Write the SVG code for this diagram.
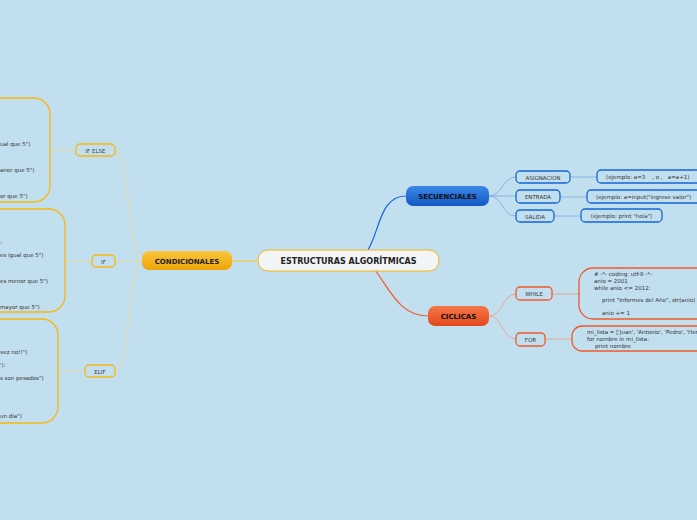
<svg xmlns="http://www.w3.org/2000/svg" width="697" height="520" viewBox="0 0 697 520">
<style>
text{font-family:"DejaVu Sans",sans-serif;font-size:5.5px;fill:#333}
.y{fill:#c2dff0;stroke:#f7b70e;stroke-width:1.3}
.b{fill:#c2dff0;stroke:#1665d8;stroke-width:1.3}
.o{fill:#c2dff0;stroke:#f05a28;stroke-width:1.3}
.c{text-anchor:middle}
</style>
<defs>
<linearGradient id="gy" x1="0" y1="0" x2="0" y2="1"><stop offset="0" stop-color="#fbc63a"/><stop offset="1" stop-color="#eda40a"/></linearGradient>
<linearGradient id="gb" x1="0" y1="0" x2="0" y2="1"><stop offset="0" stop-color="#3d87e8"/><stop offset="1" stop-color="#1257c4"/></linearGradient>
<linearGradient id="go" x1="0" y1="0" x2="0" y2="1"><stop offset="0" stop-color="#f5784a"/><stop offset="1" stop-color="#e4481c"/></linearGradient>
</defs>
<rect width="697" height="520" fill="#c2dff0"/>
<g id="connectors" fill="none">
<path d="M258 261 H232" stroke="#f7c640" stroke-width="1.2"/>
<path d="M368 250 C380 230 380 196 406 196" stroke="#1665d8" stroke-width="1.2"/>
<path d="M375 270 C390 290 400 316 428 316" stroke="#f05a28" stroke-width="1.2"/>
<g stroke="#f5d48a" stroke-width="0.8">
<path d="M142 261 C128 261 130 150 115 150"/><path d="M142 261 H115"/><path d="M142 261 C128 261 130 371 115 371"/>
<path d="M76 150 H50"/><path d="M92 261 H65"/><path d="M85 371 H58"/>
</g>
<g stroke="#7aa8e0" stroke-width="0.8">
<path d="M489 196 C503 196 502 177 516 177"/><path d="M489 196 H516"/><path d="M489 196 C503 196 502 216 516 216"/>
<path d="M570 177 H597"/><path d="M560 197 H587"/><path d="M554 216 H581"/>
</g>
<g stroke="#ee9a80" stroke-width="0.8">
<path d="M489 316 C503 316 502 294 516 294"/><path d="M489 316 C503 316 502 339 516 339"/>
<path d="M552 294 H579"/><path d="M545 339 H572"/>
</g>
</g>
<g id="root"><rect x="258" y="250" width="181" height="21" rx="10" fill="#f2f4f6" stroke="#f7b70e" stroke-width="1"/><text x="348.5" y="264" class="c" style="font-size:8px;font-weight:bold;fill:#222">ESTRUCTURAS ALGORÍTMICAS</text></g>
<g id="condicionales"><rect x="142" y="251" width="90" height="19" rx="7" fill="url(#gy)"/><text x="187" y="264" class="c" style="font-size:7px;font-weight:bold;fill:#222">CONDICIONALES</text></g>
<g id="secuenciales"><rect x="406" y="186" width="83" height="20" rx="7" fill="url(#gb)"/><text x="447.5" y="199" class="c" style="font-size:7px;font-weight:bold;fill:#111">SECUENCIALES</text></g>
<g id="ciclicas"><rect x="428" y="306" width="61" height="20" rx="7" fill="url(#go)"/><text x="458.5" y="319" class="c" style="font-size:7px;font-weight:bold;fill:#111">CICLICAS</text></g>
<g id="ifelse"><rect class="y" x="76" y="144" width="39" height="12" rx="4"/><text x="95.5" y="152.5" class="c">IF ELSE</text></g>
<g id="if"><rect class="y" x="92" y="255" width="23" height="12" rx="4"/><text x="103.5" y="263.5" class="c">IF</text></g>
<g id="elif"><rect class="y" x="85" y="365" width="30" height="12" rx="4"/><text x="100" y="373.5" class="c">ELIF</text></g>
<g id="ifelse-code"><rect class="y" x="-30" y="98" width="80" height="104" rx="16"/><text x="0" y="146">ual que 5")</text><text x="0" y="172">anor que 5")</text><text x="0" y="198">or que 5")</text></g>
<g id="if-code"><rect class="y" x="-30" y="209" width="95" height="103" rx="16"/><text x="0" y="244">:</text><text x="0" y="257">es igual que 5")</text><text x="0" y="283">es menor que 5")</text><text x="0" y="309">mayor que 5")</text></g>
<g id="elif-code"><rect class="y" x="-30" y="319" width="88" height="104" rx="16"/><text x="0" y="354">vez no!!")</text><text x="0" y="367">'):</text><text x="0" y="380">s son pesados")</text><text x="0" y="418">un dia")</text></g>
<g id="asignacion"><rect class="b" x="516" y="171" width="54" height="12" rx="4"/><text x="543" y="179.5" class="c">ASIGNACIÓN</text></g>
<g id="entrada"><rect class="b" x="516" y="190" width="44" height="13" rx="4"/><text x="538" y="199" class="c">ENTRADA</text></g>
<g id="salida"><rect class="b" x="516" y="210" width="38" height="12" rx="4"/><text x="535" y="218.5" class="c">SALIDA</text></g>
<g id="asig-ej"><rect class="b" x="597" y="170" width="110" height="13" rx="4"/><text x="606" y="179" style="white-space:pre">(ejemplo: a=3    , o ,   a=a+1)</text></g>
<g id="ent-ej"><rect class="b" x="587" y="190" width="120" height="13" rx="4"/><text x="596" y="199">(ejemplo: a=input("ingrese valor")</text></g>
<g id="sal-ej"><rect class="b" x="581" y="209" width="81" height="13" rx="4"/><text x="621.5" y="218" class="c">(ejemplo: print "hola")</text></g>
<g id="while"><rect class="o" x="516" y="287" width="36" height="13" rx="4"/><text x="534" y="296" class="c">WHILE</text></g>
<g id="for"><rect class="o" x="516" y="333" width="29" height="13" rx="4"/><text x="530.5" y="342" class="c">FOR</text></g>
<g id="while-code"><rect class="o" x="579" y="268" width="140" height="51" rx="14"/><text x="594" y="276">#  -*- coding: utf-8 -*-</text><text x="594" y="283">anio = 2001</text><text x="594" y="290">while anio &lt;= 2012:</text><text x="602" y="302">print "Informes del Año", str(anio)</text><text x="602" y="315">anio += 1</text></g>
<g id="for-code"><rect class="o" x="572" y="326" width="140" height="25" rx="10"/><text x="587" y="334">mi_lista = ['Juan', 'Antonio', 'Pedro', 'Herminio']</text><text x="587" y="341">for nombre in mi_lista:</text><text x="595" y="348">print nombre</text></g>
</svg>
